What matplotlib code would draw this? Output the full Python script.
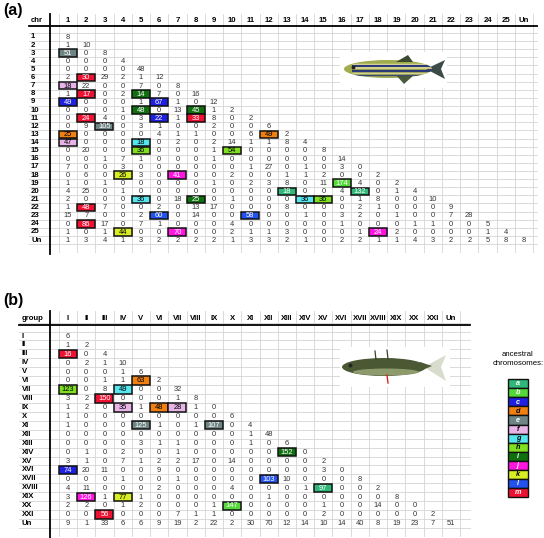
import matplotlib
matplotlib.use("Agg")
import matplotlib.pyplot as plt
from matplotlib.patches import Rectangle, Polygon, Ellipse

plt.rcParams['font.family'] = ['Liberation Sans', 'DejaVu Sans']

# ---------------- data: panel (a) zebrafish chr vs ancestral ----------------
zf_labels = [str(i) for i in range(1, 26)] + ["Un"]
zf_rows = [
    [8],
    [1, 10],
    [51, 0, 8],
    [0, 0, 0, 4],
    [0, 0, 0, 0, 48],
    [2, 30, 29, 2, 1, 12],
    [18, 22, 0, 0, 7, 0, 8],
    [1, 17, 0, 2, 14, 7, 0, 16],
    [49, 0, 0, 0, 1, 67, 1, 0, 12],
    [0, 0, 0, 1, 48, 0, 13, 45, 1, 2],
    [0, 24, 4, 0, 3, 22, 1, 33, 8, 0, 2],
    [0, 9, 105, 0, 3, 1, 0, 0, 2, 0, 0, 6],
    [25, 0, 0, 0, 0, 4, 1, 1, 0, 0, 6, 49, 2],
    [47, 0, 0, 0, 18, 0, 2, 0, 2, 14, 1, 1, 8, 4],
    [0, 20, 0, 0, 36, 0, 0, 0, 1, 54, 0, 0, 0, 0, 8],
    [0, 0, 1, 7, 1, 0, 0, 0, 1, 0, 0, 0, 0, 0, 0, 14],
    [7, 0, 0, 3, 0, 0, 0, 0, 0, 0, 1, 27, 0, 1, 0, 3, 0],
    [0, 6, 0, 26, 3, 0, 41, 0, 0, 2, 0, 0, 1, 1, 2, 0, 0, 2],
    [1, 0, 1, 0, 0, 0, 0, 0, 1, 0, 2, 3, 8, 0, 11, 174, 4, 0, 2],
    [4, 25, 0, 1, 0, 0, 0, 0, 0, 0, 0, 0, 18, 0, 0, 4, 132, 0, 1, 4],
    [2, 0, 0, 0, 36, 0, 18, 25, 0, 1, 0, 0, 0, 36, 36, 0, 1, 8, 0, 0, 10],
    [1, 48, 7, 0, 0, 2, 0, 13, 17, 0, 0, 0, 8, 0, 0, 0, 2, 1, 0, 0, 0, 9],
    [15, 7, 0, 0, 2, 60, 0, 14, 0, 0, 58, 0, 0, 1, 0, 3, 2, 0, 1, 0, 0, 7, 28],
    [0, 86, 17, 0, 7, 1, 0, 0, 0, 4, 0, 0, 0, 0, 0, 1, 0, 0, 0, 1, 1, 0, 0, 5],
    [1, 0, 1, 44, 0, 0, 70, 0, 0, 2, 1, 1, 3, 0, 0, 0, 1, 24, 2, 0, 0, 0, 0, 1, 4],
    [1, 3, 4, 1, 3, 2, 2, 2, 2, 1, 3, 3, 2, 1, 0, 2, 2, 1, 1, 4, 3, 2, 2, 5, 8, 8],
]
# (row, col) 1-based -> ancestral chromosome letter
zf_marks = {
    (3, 1): 'e', (6, 2): 'm', (7, 1): 'f', (8, 2): 'm', (8, 5): 'i',
    (9, 1): 'c', (9, 6): 'c', (10, 5): 'i', (10, 8): 'i', (11, 2): 'm',
    (11, 6): 'c', (11, 8): 'm', (12, 3): 'e', (13, 1): 'd', (13, 12): 'd',
    (14, 1): 'f', (14, 5): 'g', (15, 5): 'h', (15, 10): 'h', (18, 4): 'k',
    (18, 7): 'j', (19, 16): 'b', (20, 13): 'a', (20, 17): 'a', (21, 5): 'g',
    (21, 8): 'i', (21, 14): 'g', (21, 15): 'h', (22, 2): 'm', (23, 6): 'l',
    (23, 11): 'l', (24, 2): 'm', (25, 4): 'k', (25, 7): 'j', (25, 18): 'j',
}

# ---------------- data: panel (b) stickleback groups ----------------
sb_labels = ["I", "II", "III", "IV", "V", "VI", "VII", "VIII", "IX", "X", "XI",
             "XII", "XIII", "XIV", "XV", "XVI", "XVII", "XVIII", "XIX", "XX",
             "XXI", "Un"]
sb_rows = [
    [6],
    [1, 2],
    [16, 0, 4],
    [0, 2, 1, 10],
    [0, 0, 0, 1, 6],
    [0, 0, 1, 1, 63, 2],
    [123, 0, 8, 49, 0, 0, 32],
    [3, 2, 150, 0, 0, 0, 1, 8],
    [1, 2, 0, 35, 1, 48, 28, 1, 0],
    [1, 0, 0, 0, 0, 0, 0, 0, 0, 6],
    [1, 0, 0, 0, 125, 1, 0, 1, 107, 0, 4],
    [0, 0, 0, 0, 0, 0, 0, 0, 0, 0, 1, 48],
    [0, 0, 0, 0, 3, 1, 1, 0, 0, 0, 1, 0, 6],
    [0, 1, 0, 2, 0, 0, 1, 0, 0, 0, 0, 0, 152, 0],
    [3, 1, 0, 7, 1, 2, 2, 17, 0, 14, 0, 0, 0, 0, 2],
    [74, 20, 11, 0, 0, 9, 0, 0, 0, 0, 0, 0, 0, 0, 3, 0],
    [0, 0, 0, 1, 0, 0, 1, 0, 0, 0, 0, 103, 10, 0, 0, 0, 8],
    [4, 11, 0, 0, 0, 2, 0, 0, 0, 4, 0, 0, 0, 1, 97, 0, 0, 2],
    [3, 126, 1, 77, 1, 0, 0, 0, 0, 0, 0, 1, 0, 0, 0, 0, 0, 0, 8],
    [2, 2, 0, 1, 2, 0, 0, 0, 1, 147, 0, 0, 0, 0, 1, 0, 0, 14, 0, 0],
    [0, 0, 56, 0, 0, 0, 7, 1, 1, 0, 0, 0, 0, 0, 2, 0, 0, 0, 0, 0, 2],
    [9, 1, 33, 6, 6, 9, 19, 2, 22, 2, 30, 70, 12, 14, 10, 14, 40, 8, 19, 23, 7, 51],
]
sb_marks = {
    (3, 1): 'm', (6, 5): 'd', (7, 1): 'h', (7, 4): 'g', (8, 3): 'm',
    (9, 4): 'f', (9, 6): 'd', (9, 7): 'f', (11, 5): 'e', (11, 9): 'e',
    (14, 13): 'i', (16, 1): 'c', (17, 12): 'l', (18, 15): 'a', (19, 2): 'j',
    (19, 4): 'k', (20, 10): 'b', (21, 3): 'm',
}

anc_letters = list("abcdefghijklm")
anc_colors = ["#2fb878", "#55d83a", "#2020e0", "#f08010", "#6f8484",
              "#e8b4e8", "#55e6f0", "#80e020", "#107010", "#ff14e0",
              "#d8ee22", "#2252f0", "#ee1232"]
anc_textc = ["white", "white", "white", "black", "white", "black", "black",
             "black", "white", "white", "black", "white", "white"]
cmap = dict(zip(anc_letters, anc_colors))
tmap = dict(zip(anc_letters, anc_textc))

# ---------------- figure ----------------
W, H = 544, 538
fig = plt.figure(figsize=(W / 100, H / 100), dpi=100)
ax = fig.add_axes([0, 0, 1, 1])
ax.set_xlim(0, W)
ax.set_ylim(H, 0)
ax.axis('off')

GRID = "#d4d4d4"
DX = 18.24
FS = 5.4


def draw_panel(labels, rows, marks, header, x_lab, y_first, dy, y_head,
               y_thick, x_left, x_right, y_top, y_bot, panel, panel_y):
    ncol = len(labels)
    cx = [68 + j * DX for j in range(ncol)]
    ry = [y_first + i * dy for i in range(len(rows))]
    # horizontal grid lines
    yy = ry[0] - dy * 1.5
    while yy <= y_bot + 0.1:
        ax.plot([x_left, x_right], [yy, yy], color=GRID, lw=0.6, zorder=1)
        yy += dy
    # vertical grid lines
    for j in range(ncol + 1):
        x = cx[0] - DX / 2 + j * DX
        ax.plot([x, x], [y_top, y_bot], color=GRID, lw=0.6, zorder=1)
    # thick axes lines
    ax.plot([x_left, x_right], [y_thick, y_thick], color="black", lw=1.3, zorder=3)
    ax.plot([50, 50], [y_top, y_bot + 2], color="black", lw=1.3, zorder=3)
    # headers
    ax.text(x_lab, y_head, header, ha='left', va='center', fontsize=5.6,
            fontweight='bold', zorder=4)
    for j, lab in enumerate(labels):
        ax.text(cx[j], y_head, lab, ha='center', va='center', fontsize=5.6,
                fontweight='bold', zorder=4)
    # row labels and values
    for i, vals in enumerate(rows):
        ax.text(x_lab, ry[i], labels[i], ha='left', va='center', fontsize=5.6,
                fontweight='bold', zorder=4)
        for j, v in enumerate(vals):
            key = (i + 1, j + 1)
            tc = "#333333"
            if key in marks:
                L = marks[key]
                ax.add_patch(Rectangle((cx[j] - 9.0, ry[i] - dy / 2 + 0.3), 18.0,
                                       dy - 0.6, facecolor=cmap[L],
                                       edgecolor="#111111", lw=1.1, zorder=5))
                tc = tmap[L]
            ax.text(cx[j], ry[i] + 0.3, str(v), ha='center', va='center',
                    fontsize=FS, color=tc, zorder=6)
    ax.text(3, panel_y, panel, ha='left', va='center', fontsize=11.5,
            fontweight='bold', zorder=6)


# panel (a)
draw_panel(zf_labels, zf_rows, zf_marks, "chr", 31, 37.0, 8.12, 20.0, 25.8,
           29, 537, 14, 252, "(a)", 11)
# panel (b)
draw_panel(sb_labels, sb_rows, sb_marks, "group", 22, 336.0, 8.93, 318.0, 324.5,
           19, 470, 311, 536, "(b)", 300)

# ---------------- zebrafish sketch ----------------
ax.add_patch(Rectangle((340, 52), 107, 36, facecolor="white", edgecolor="none", zorder=7))
body = Ellipse((388, 69), 88, 18, facecolor="#a0ac4e", edgecolor="none", zorder=8)
ax.add_patch(body)
for yy, c, w in [(63.5, "#e8e0a0", 1.0), (65.8, "#2b3a78", 1.6), (68.4, "#e8e0a0", 1.1),
                 (70.9, "#2b3a78", 1.6), (73.4, "#d8d090", 1.0), (75.4, "#3a4a70", 1.0)]:
    ln, = ax.plot([352, 440], [yy, yy], color=c, lw=w, zorder=9, solid_capstyle='butt')
    ln.set_clip_path(body)
ax.add_patch(Polygon([[426, 69], [445, 60], [441, 69], [445, 79]], closed=True,
                     facecolor="#3c4a48", edgecolor="none", zorder=8))
ax.add_patch(Polygon([[396, 62], [408, 55], [413, 62]], closed=True,
                     facecolor="#3c4a30", edgecolor="none", zorder=8))
ax.add_patch(Polygon([[396, 75], [404, 84], [414, 75]], closed=True,
                     facecolor="#4a5a3a", edgecolor="none", zorder=8))
ax.plot([353], [66.5], marker='o', ms=1.8, color="#222222", zorder=10)

# ---------------- stickleback sketch ----------------
ax.add_patch(Rectangle((340, 347), 110, 40, facecolor="white", edgecolor="none", zorder=7))
ax.add_patch(Ellipse((384, 367), 84, 18, facecolor="#4b5834", edgecolor="none", zorder=8))
ax.add_patch(Ellipse((386, 372), 66, 7, facecolor="#8c9a6c", edgecolor="none", zorder=8))
ax.add_patch(Polygon([[424, 367], [446, 355], [441, 367], [446, 381]], closed=True,
                     facecolor="#d8dccc", edgecolor="none", zorder=8))
ax.add_patch(Polygon([[420, 362], [432, 366], [420, 371]], closed=True,
                     facecolor="#4b5834", edgecolor="none", zorder=8))
ax.plot([376, 375], [360, 351], color="#3a4228", lw=0.9, zorder=9)
ax.plot([388, 387], [359, 350], color="#3a4228", lw=0.9, zorder=9)
ax.plot([387, 388], [375, 383], color="#e02020", lw=1.0, zorder=9)
ax.plot([350], [365], marker='o', ms=1.8, color="#222222", zorder=10)

# ---------------- legend ----------------
ax.text(518, 355, "ancestral", ha='center', va='center', fontsize=5.6, zorder=6)
ax.text(518, 363.5, "chromosomes:", ha='center', va='center', fontsize=5.6, zorder=6)
for k, L in enumerate(anc_letters):
    y0 = 379 + k * 9.1
    ax.add_patch(Rectangle((508, y0), 19.5, 9.1, facecolor=cmap[L],
                           edgecolor="#111111", lw=1.0, zorder=5))
    ax.text(517.75, y0 + 4.8, L, ha='center', va='center', fontsize=5.2,
            fontstyle='italic', fontweight='bold', color=tmap[L], zorder=6)

fig.savefig("out.png", dpi=100, facecolor="white")
